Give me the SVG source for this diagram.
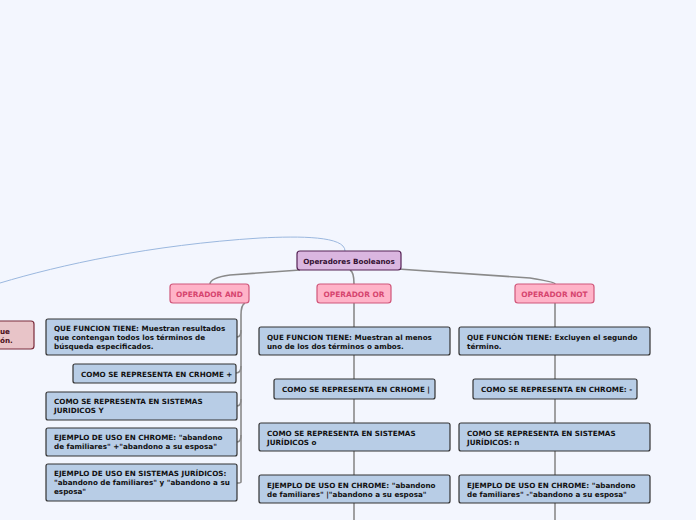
<svg xmlns="http://www.w3.org/2000/svg" width="696" height="520" viewBox="0 0 696 520">
<style>
text{font-family:"DejaVu Sans",Verdana,sans-serif;font-weight:bold;font-size:7.2px;fill:#111}
.b{fill:#b8cde6;stroke:#333;stroke-width:1.2}
.p{fill:#ffb3c8;stroke:#d0567a;stroke-width:1.2}
.pt{fill:#d6456f;font-size:7.4px}
.c{fill:none;stroke:#8a8a8a;stroke-width:1.6}
</style>
<rect width="696" height="520" fill="#f3f6fe"/>
<g id="connectors">
<path d="M345,251 C345,236 300,236 260,238 C150,245 60,265 0,283" fill="none" stroke="#9bb8df" stroke-width="1"/>
<path class="c" d="M300,270 L230,275 Q210,278 210,284"/>
<path class="c" d="M350,270 Q354,272 354,284"/>
<path class="c" d="M398,269 L530,278 Q555,282 555,284"/>
<path class="c" d="M245,303 Q241,305 241,315 L241,482 Q241,483 237,483"/>
<path class="c" d="M241,330 Q241,337 237,337 M241,366 Q241,373 236,373 M241,399 Q241,406 237,406 M241,435 Q241,442 237,442"/>
<path class="c" d="M354,303 V520"/>
<path class="c" d="M555,303 V520"/>
</g>
<g id="root"><rect x="297" y="251" width="104" height="19" rx="3" fill="#dab6e0" stroke="#552255" stroke-width="1.2"/><text x="349" y="263.5" text-anchor="middle" style="fill:#331133">Operadores Booleanos</text></g>
<g id="and"><rect class="p" x="170" y="284" width="79" height="19" rx="3"/><text class="pt" x="209.5" y="296.5" text-anchor="middle">OPERADOR AND</text></g>
<g id="or"><rect class="p" x="317" y="284" width="74" height="19" rx="3"/><text class="pt" x="354" y="296.5" text-anchor="middle">OPERADOR OR</text></g>
<g id="not"><rect class="p" x="515" y="284" width="79" height="19" rx="3"/><text class="pt" x="554.5" y="296.5" text-anchor="middle">OPERADOR NOT</text></g>
<g id="left"><rect x="-10" y="321" width="44" height="28" rx="3" fill="#e8c4c8" stroke="#7a2a3a" stroke-width="1.2"/><text x="0" y="334" style="fill:#4a1020">ue</text><text x="0" y="343" style="fill:#4a1020">ón.</text></g>
<g id="a1"><rect class="b" x="46" y="319" width="191" height="36" rx="2"/><text x="54" y="331">QUE FUNCION TIENE: Muestran resultados</text><text x="54" y="340">que contengan todos los términos de</text><text x="54" y="349">búsqueda especificados.</text></g>
<g id="a2"><rect class="b" x="73" y="364" width="163" height="19" rx="2"/><text x="81" y="376.5">COMO SE REPRESENTA EN CRHOME +</text></g>
<g id="a3"><rect class="b" x="46" y="392" width="191" height="28" rx="2"/><text x="54" y="404">COMO SE REPRESENTA EN SISTEMAS</text><text x="54" y="413">JURIDICOS Y</text></g>
<g id="a4"><rect class="b" x="46" y="428" width="191" height="28" rx="2"/><text x="54" y="440">EJEMPLO DE USO EN CHROME: "abandono</text><text x="54" y="449">de familiares" +"abandono a su esposa"</text></g>
<g id="a5"><rect class="b" x="46" y="464" width="191" height="37" rx="2"/><text x="54" y="476">EJEMPLO DE USO EN SISTEMAS JURÍDICOS:</text><text x="54" y="485">"abandono de familiares" y "abandono a su</text><text x="54" y="494">esposa"</text></g>
<g id="o1"><rect class="b" x="259" y="327" width="191" height="28" rx="2"/><text x="267" y="340">QUE FUNCION TIENE: Muestran al menos</text><text x="267" y="349">uno de los dos términos o ambos.</text></g>
<g id="o2"><rect class="b" x="274" y="379" width="161" height="20" rx="2"/><text x="282" y="392">COMO SE REPRESENTA EN CRHOME |</text></g>
<g id="o3"><rect class="b" x="259" y="423" width="191" height="28" rx="2"/><text x="267" y="436">COMO SE REPRESENTA EN SISTEMAS</text><text x="267" y="445">JURÍDICOS o</text></g>
<g id="o4"><rect class="b" x="259" y="475" width="191" height="28" rx="2"/><text x="267" y="488">EJEMPLO DE USO EN CHROME: "abandono</text><text x="267" y="497">de familiares" |"abandono a su esposa"</text></g>
<g id="n1"><rect class="b" x="459" y="327" width="191" height="28" rx="2"/><text x="467" y="340">QUE FUNCIÓN TIENE: Excluyen el segundo</text><text x="467" y="349">término.</text></g>
<g id="n2"><rect class="b" x="473" y="379" width="164" height="20" rx="2"/><text x="481" y="392">COMO SE REPRESENTA EN CHROME: -</text></g>
<g id="n3"><rect class="b" x="459" y="423" width="191" height="28" rx="2"/><text x="467" y="436">COMO SE REPRESENTA EN SISTEMAS</text><text x="467" y="445">JURÍDICOS: n</text></g>
<g id="n4"><rect class="b" x="459" y="475" width="191" height="28" rx="2"/><text x="467" y="488">EJEMPLO DE USO EN CHROME: "abandono</text><text x="467" y="497">de familiares" -"abandono a su esposa"</text></g>
</svg>
